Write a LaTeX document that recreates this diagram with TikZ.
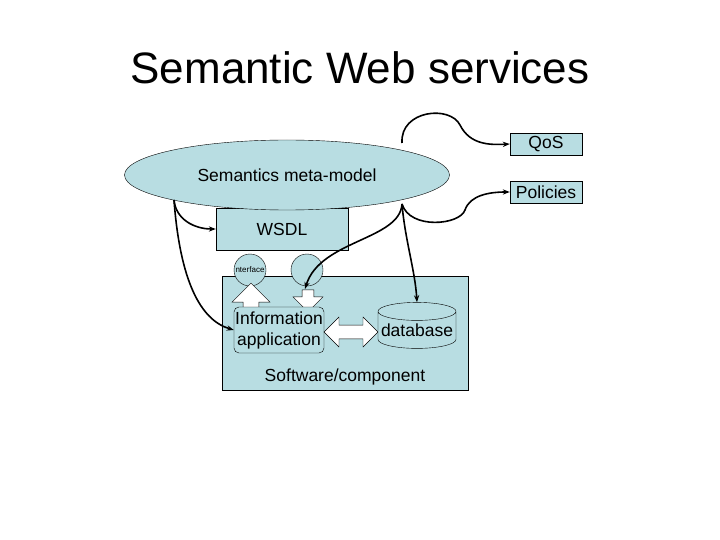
\documentclass[tikz,border=0pt]{standalone}
\usepackage{fontspec}
\setmainfont{Liberation Sans}
\usetikzlibrary{shapes.geometric,shapes.arrows,arrows.meta}
\definecolor{fillc}{RGB}{184,221,226}
\begin{document}
\begin{tikzpicture}[x=1pt,y=-1pt,
  box/.style={draw,fill=fillc,inner sep=0pt,font=\fontsize{17.5}{20}\selectfont},
  con/.style={line width=1.6pt,-{Stealth[length=7pt]}}]
\useasboundingbox (0,0) rectangle (720,540);
\node[font=\fontsize{44}{48}\selectfont] (title) at (360,68) {Semantic Web services};
\node[box,minimum width=246pt,minimum height=114pt] (sw) at (345,333) {};
\node[font=\fontsize{17.5}{20}\selectfont] (swt) at (345,377) {Software/component};
\node[box,minimum width=132pt,minimum height=42pt] (wsdl) at (282,229) {WSDL};
\node[draw,fill=fillc,ellipse,minimum width=325pt,minimum height=70pt,font=\fontsize{17.5}{20}\selectfont] (sem) at (287,175) {Semantics meta-model};
\node[box,minimum width=72pt,minimum height=22pt] (qos) at (546,144) {QoS};
\node[box,minimum width=72pt,minimum height=22pt] (pol) at (546,192) {Policies};
\node[draw,fill=fillc,circle,minimum size=32pt,inner sep=0pt,font=\fontsize{8}{9}\selectfont] (if1) at (250,270) {nterface};
\node[draw,fill=fillc,circle,minimum size=32pt,inner sep=0pt] (if2) at (307,270) {};
\node[draw,fill=white,single arrow,shape border rotate=90,minimum width=38pt,single arrow head extend=6pt,minimum height=26pt,inner sep=4pt] (a1) at (251,300) {};
\node[draw,fill=white,single arrow,shape border rotate=270,minimum width=30pt,single arrow head extend=5pt,minimum height=22pt,inner sep=3pt] (a2) at (308,298) {};
\node[box,rounded corners=5pt,minimum width=90pt,minimum height=46pt,align=center,font=\fontsize{17.5}{21}\selectfont] (info) at (279,330) {Information\\application};
\node[draw,fill=white,double arrow,minimum width=30pt,minimum height=54pt,double arrow head extend=5pt,inner sep=4pt] (da) at (351,332) {};
\node[draw,fill=fillc,cylinder,shape border rotate=90,aspect=0.25,minimum width=78pt,minimum height=46pt,inner sep=0pt,font=\fontsize{17.5}{20}\selectfont] (db) at (417,330) {database};
\coordinate (r1) at (402,143);
\coordinate (r2) at (402,204);
\coordinate (l1) at (174,200);
\draw[con] (r1) .. controls (400,110) and (450,105) .. (460,125) .. controls (470,145) and (490,145) .. (qos.west);
\draw[con] (r2) .. controls (410,230) and (460,225) .. (465,210) .. controls (470,195) and (490,192) .. (pol.west);
\draw[con] (l1) .. controls (176,220) and (195,229) .. (wsdl.west);
\draw[con] (l1) .. controls (180,280) and (200,320) .. (info.west);
\draw[con] (r2) .. controls (400,240) and (320,240) .. (305,289);
\draw[con] (r2) .. controls (405,240) and (415,270) .. (db.top);
\end{tikzpicture}
\end{document}
